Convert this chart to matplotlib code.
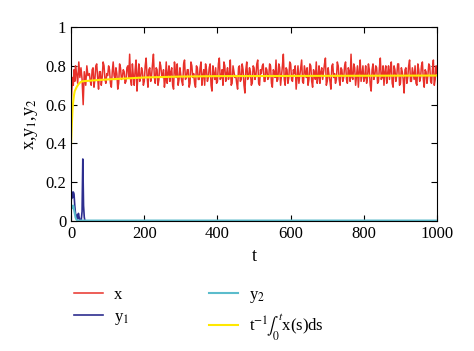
import numpy as np
import matplotlib
matplotlib.use('Agg')
import matplotlib.pyplot as plt

plt.rcParams['font.family'] = ['Liberation Serif', 'DejaVu Serif']
plt.rcParams['mathtext.fontset'] = 'stix'

# x(t): early part read finely
t_x_early = [0, 2, 4, 6, 8, 10, 12, 15, 18, 21, 24, 27, 30, 33, 36, 40, 43, 46]
x_early = [0.60, 0.68, 0.74, 0.70, 0.78, 0.72, 0.80, 0.76, 0.71, 0.82, 0.74, 0.79,
           0.73, 0.60, 0.77, 0.70, 0.80, 0.75]
# x at t = 50, 55, ..., 1000
x_grid = [
    0.76, 0.70, 0.79, 0.73, 0.81, 0.68, 0.77, 0.74, 0.80, 0.71, 0.75, 0.78, 0.69, 0.82, 0.73, 0.76, 0.71, 0.79, 0.74, 0.77,
    0.72, 0.80, 0.86, 0.70, 0.75, 0.78, 0.67, 0.81, 0.74, 0.77, 0.72, 0.84, 0.69, 0.79, 0.75, 0.86, 0.71, 0.78, 0.73, 0.80,
    0.74, 0.69, 0.82, 0.76, 0.72, 0.79, 0.68, 0.77, 0.81, 0.73, 0.75, 0.70, 0.83, 0.74, 0.78, 0.71, 0.80, 0.76, 0.69, 0.79,
    0.73, 0.82, 0.75, 0.70, 0.78, 0.74, 0.81, 0.67, 0.76, 0.79, 0.72, 0.84, 0.74, 0.70, 0.80, 0.76, 0.73, 0.83, 0.71, 0.77,
    0.75, 0.68, 0.80, 0.73, 0.78, 0.66, 0.82, 0.74, 0.77, 0.71, 0.79, 0.75, 0.83, 0.70, 0.76, 0.81, 0.72, 0.78, 0.74, 0.80,
    0.69, 0.77, 0.83, 0.73, 0.79, 0.75, 0.86, 0.70, 0.78, 0.74, 0.81, 0.72, 0.76, 0.68, 0.80, 0.75, 0.83, 0.71, 0.77, 0.79,
    0.73, 0.80, 0.69, 0.76, 0.82, 0.74, 0.71, 0.79, 0.77, 0.84, 0.72, 0.75, 0.68, 0.81, 0.76, 0.73, 0.80, 0.70, 0.78, 0.74,
    0.82, 0.71, 0.77, 0.86, 0.73, 0.79, 0.75, 0.69, 0.83, 0.76, 0.72, 0.80, 0.74, 0.78, 0.67, 0.81, 0.75, 0.79, 0.72, 0.84,
    0.74, 0.70, 0.80, 0.76, 0.73, 0.82, 0.69, 0.78, 0.75, 0.81, 0.71, 0.77, 0.66, 0.79, 0.74, 0.83, 0.72, 0.76, 0.80, 0.70,
    0.78, 0.74, 0.82, 0.69, 0.77, 0.75, 0.80, 0.71, 0.83, 0.73, 0.76,
]
# x at t = 52.5, 57.5, ..., 997.5
x_mid = [
    0.72, 0.78, 0.69, 0.80, 0.74, 0.77, 0.70, 0.82, 0.73, 0.76, 0.80, 0.71, 0.77, 0.75, 0.79, 0.68, 0.81, 0.73, 0.78, 0.71,
    0.79, 0.74, 0.73, 0.81, 0.70, 0.83, 0.75, 0.72, 0.79, 0.70, 0.80, 0.75, 0.78, 0.72, 0.81, 0.74, 0.79, 0.70, 0.82, 0.75,
    0.78, 0.73, 0.71, 0.80, 0.77, 0.70, 0.82, 0.74, 0.70, 0.79, 0.72, 0.81, 0.73, 0.78, 0.69, 0.82, 0.74, 0.71, 0.80, 0.73,
    0.79, 0.70, 0.78, 0.81, 0.72, 0.79, 0.70, 0.80, 0.73, 0.71, 0.81, 0.73, 0.78, 0.82, 0.72, 0.79, 0.75, 0.70, 0.80, 0.74,
    0.71, 0.79, 0.72, 0.81, 0.70, 0.78, 0.73, 0.79, 0.70, 0.80, 0.73, 0.81, 0.71, 0.78, 0.80, 0.72, 0.79, 0.73, 0.81, 0.71,
    0.78, 0.74, 0.72, 0.81, 0.70, 0.80, 0.73, 0.79, 0.71, 0.82, 0.73, 0.78, 0.80, 0.74, 0.71, 0.79, 0.72, 0.80, 0.74, 0.70,
    0.81, 0.72, 0.78, 0.73, 0.71, 0.80, 0.77, 0.73, 0.81, 0.70, 0.79, 0.72, 0.80, 0.74, 0.71, 0.82, 0.73, 0.79, 0.72, 0.80,
    0.73, 0.79, 0.72, 0.74, 0.81, 0.70, 0.80, 0.77, 0.72, 0.80, 0.74, 0.71, 0.81, 0.70, 0.78, 0.73, 0.80, 0.71, 0.79, 0.73,
    0.80, 0.77, 0.71, 0.80, 0.78, 0.71, 0.80, 0.72, 0.81, 0.70, 0.79, 0.73, 0.78, 0.71, 0.80, 0.72, 0.79, 0.73, 0.71, 0.81,
    0.72, 0.80, 0.73, 0.78, 0.71, 0.81, 0.72, 0.78, 0.70, 0.80,
]
t_grid = [50 + 5 * i for i in range(len(x_grid))]
t_mid = [52.5 + 5 * i for i in range(len(x_mid))]
pairs = sorted(zip(t_x_early + t_grid + t_mid, x_early + x_grid + x_mid))
t_x = [p[0] for p in pairs]
x_vals = [p[1] for p in pairs]

# y1(t)
t_y1 = [0, 2, 4, 6, 8, 10, 12, 14, 16, 18, 20, 22, 25, 28, 30, 32, 34, 36, 38, 40, 50, 1000]
y1_vals = [0.10, 0.15, 0.12, 0.15, 0.14, 0.08, 0.04, 0.02, 0.03, 0.01, 0.04, 0.02,
           0.00, 0.01, 0.05, 0.32, 0.08, 0.02, 0.00, 0.00, 0.00, 0.00]

# y2(t)
t_y2 = [0, 2, 4, 6, 8, 10, 12, 14, 16, 20, 25, 30, 35, 40, 1000]
y2_vals = [0.06, 0.08, 0.07, 0.08, 0.06, 0.04, 0.02, 0.01, 0.005, 0.003, 0.003,
           0.003, 0.003, 0.003, 0.003]

# time average of x
t_m = [0, 2, 4, 6, 8, 10, 15, 20, 25, 30, 40, 60, 100, 150, 200, 300, 400, 600, 800, 1000]
m_vals = [0.40, 0.50, 0.58, 0.62, 0.65, 0.67, 0.69, 0.705, 0.715, 0.72, 0.722, 0.725,
          0.73, 0.735, 0.74, 0.745, 0.747, 0.748, 0.749, 0.75]

fig = plt.figure(figsize=(4.74, 3.51), dpi=100)
ax = fig.add_axes([0.150, 0.370, 0.772, 0.553])

ax.plot(t_x, x_vals, color='#e8312a', lw=1.1, label='x')
ax.plot(t_y1, y1_vals, color='#2d2e8f', lw=1.2, label='y$_1$')
ax.plot(t_y2, y2_vals, color='#5bbccc', lw=1.5, label='y$_2$')
ax.plot(t_m, m_vals, color='#ffe800', lw=1.5,
        label=r't$^{-1}\!\int_0^t$x(s)ds')

ax.set_xlim(0, 1000)
ax.set_ylim(0, 1)
ax.set_xticks([0, 200, 400, 600, 800, 1000])
ax.set_yticks([0, 0.2, 0.4, 0.6, 0.8, 1])
ax.set_yticklabels(['0', '0.2', '0.4', '0.6', '0.8', '1'])
ax.tick_params(direction='in', top=True, right=True, labelsize=12, length=4)
ax.set_xlabel('t', fontsize=13)
ax.set_ylabel('x,y$_1$,y$_2$', fontsize=13)

# legend order: x, y1 | y2, mean
h, l = ax.get_legend_handles_labels()
fig.legend(h, l, loc='upper left', bbox_to_anchor=(0.125, 0.225), ncol=2,
           frameon=False, fontsize=12, handlelength=1.7, handletextpad=0.7,
           columnspacing=4.8, labelspacing=0.35)

fig.savefig('out.png', dpi=100)
